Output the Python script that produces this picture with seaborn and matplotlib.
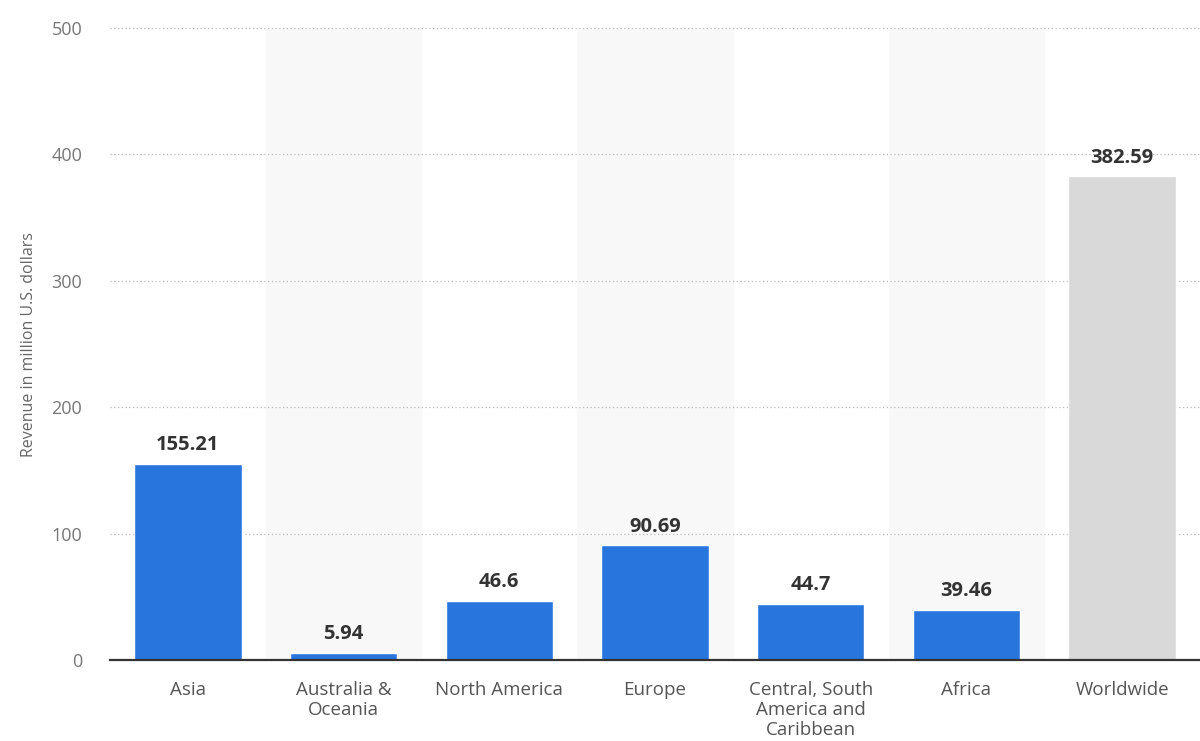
import matplotlib
matplotlib.use("Agg")
import matplotlib.pyplot as plt
import seaborn as sns
import pandas as pd

regions = ["Asia", "Australia &\nOceania", "North America", "Europe",
           "Central, South\nAmerica and\nCaribbean", "Africa", "Worldwide"]
revenue = [155.21, 5.94, 46.6, 90.69, 44.7, 39.46, 382.59]
labels = ["155.21", "5.94", "46.6", "90.69", "44.7", "39.46", "382.59"]

df = pd.DataFrame({"Region": regions, "Revenue": revenue})

sns.set_style("white")
plt.rcParams["font.family"] = ["Open Sans", "DejaVu Sans"]

fig = plt.figure(figsize=(12, 7.41), dpi=100)
ax = fig.add_axes([0.0917, 0.1093, 0.9083, 0.8529])

colors = ["#2876dd"] * 6 + ["#d9d9d9"]
sns.barplot(data=df, x="Region", y="Revenue", hue="Region", palette=colors,
            legend=False, width=0.69, ax=ax, saturation=1)

# alternating background bands
for i in range(len(regions)):
    if i % 2 == 1:
        ax.axvspan(i - 0.5, i + 0.5, color="#f8f8f8", zorder=0)

ax.set_xlim(-0.5, len(regions) - 0.5)
ax.set_ylim(0, 500)
ax.set_yticks(range(0, 501, 100))
ax.yaxis.grid(True, linestyle=(0, (1, 2)), color="#bbbbbb", linewidth=0.9)
ax.set_axisbelow(True)

for i, (v, t) in enumerate(zip(revenue, labels)):
    ax.text(i, v + 7, t, ha="center", va="bottom", fontsize=14.5,
            fontweight="bold", color="#333333")

for s in ["top", "right", "left"]:
    ax.spines[s].set_visible(False)
ax.spines["bottom"].set_color("#333333")
ax.spines["bottom"].set_linewidth(1.6)
ax.spines["bottom"].set_zorder(5)

ax.tick_params(axis="x", length=0, labelsize=13.5, labelcolor="#555555", pad=15)
ax.tick_params(axis="y", length=0, labelsize=13, labelcolor="#777777", pad=20)
for lab in ax.get_xticklabels():
    lab.set_linespacing(1.15)
    lab.set_va("top")

ax.set_xlabel("")
ax.set_ylabel("Revenue in million U.S. dollars", fontsize=11.5, color="#666666")
ax.yaxis.set_label_coords(-0.067, 0.5)

fig.savefig("out.png", dpi=100)
